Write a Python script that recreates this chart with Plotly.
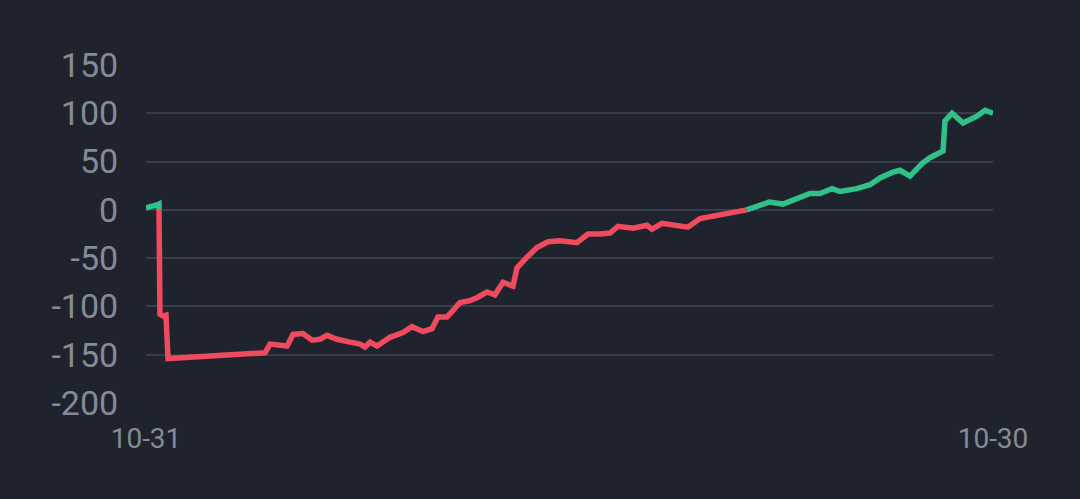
import plotly.graph_objects as go

# time position (0 = start "10-31", 100 = end "10-30")
t = [0, 0.71, 1.30, 1.53, 1.65, 2.01, 2.36, 2.60, 6.38, 10.51, 13.11, 14.05, 14.64,
     15.82, 16.65, 17.36, 18.54, 19.60, 20.54, 21.37, 22.55, 24.09, 25.27, 25.86,
     26.45, 27.27, 28.81, 30.34, 31.40, 32.70, 33.77, 34.47, 35.54, 37.07, 38.25,
     39.08, 40.26, 41.20, 42.15, 43.33, 43.80, 44.98, 46.16, 47.46, 48.88, 50.89,
     52.18, 53.60, 54.78, 55.73, 57.50, 59.15, 59.74, 60.92, 62.10, 63.99, 65.41,
     66.82, 68.83, 70.60, 71.55, 73.55, 75.21, 76.98, 78.39, 79.58, 80.99, 81.93,
     83.94, 85.48, 86.66, 88.19, 89.02, 90.20, 91.62, 92.56, 94.10, 94.33, 95.16,
     96.46, 97.28, 98.11, 99.06, 100]
pnl = [2, 3, 5, 6, -108, -110, -109, -154, -152, -150, -148, -148, -139,
       -140, -141, -129, -128, -135, -134, -130, -134, -137, -139, -142,
       -137, -141, -132, -127, -121, -126, -123, -111, -111, -96, -94,
       -91, -85, -88, -75, -79, -60, -49, -39, -33, -32, -34,
       -25, -25, -24, -17, -19, -16, -20, -14, -15, -18, -9,
       -7, -4, -1, 2, 8, 6, 12, 17, 17, 22, 19,
       22, 26, 33, 39, 41, 35, 48, 54, 61, 92, 100,
       90, 93, 97, 103, 100]

y_ticks = [150, 100, 50, 0, -50, -100, -150, -200]
y_ticktext = ["150", "100", "50", "0", "-50", "-100", "-150", "-200"]
x_tickvals = [0, 100]
x_ticktext = ["10-31", "10-30"]

RED = "#f04a5f"
GREEN = "#30c188"

# split into positive (green) / negative (red) segments with zero-crossing points
gx, gy, rx, ry = [], [], [], []
for i in range(len(t)):
    if i > 0:
        y0, y1 = pnl[i - 1], pnl[i]
        if (y0 >= 0) != (y1 >= 0):
            xc = t[i - 1] + (t[i] - t[i - 1]) * (0 - y0) / (y1 - y0)
            if y0 >= 0:
                gx.append(xc); gy.append(0); gx.append(None); gy.append(None)
                rx.append(xc); ry.append(0)
            else:
                rx.append(xc); ry.append(0); rx.append(None); ry.append(None)
                gx.append(xc); gy.append(0)
    if pnl[i] >= 0:
        gx.append(t[i]); gy.append(pnl[i])
    else:
        rx.append(t[i]); ry.append(pnl[i])

fig = go.Figure()
fig.add_trace(go.Scatter(x=rx, y=ry, mode="lines", line=dict(color=RED, width=5.5),
                         connectgaps=False, showlegend=False))
fig.add_trace(go.Scatter(x=gx, y=gy, mode="lines", line=dict(color=GREEN, width=5.5),
                         connectgaps=False, showlegend=False))

fig.update_layout(
    width=1080, height=499,
    paper_bgcolor="#1f232d", plot_bgcolor="#1f232d",
    margin=dict(l=146, r=87, t=65, b=96),
    font=dict(family="Roboto", color="#858b96"),
    xaxis=dict(range=[0, 100], showgrid=False, zeroline=False, showline=False,
               tickvals=x_tickvals, ticktext=x_ticktext, tickfont=dict(size=28),
               ticks="outside", ticklen=10, tickcolor="rgba(0,0,0,0)"),
    yaxis=dict(range=[-200, 150], tickvals=y_ticks, ticktext=y_ticktext, showgrid=True,
               gridcolor="#383c48", gridwidth=2, zeroline=False, showline=False,
               tickfont=dict(size=34), ticks="outside", ticklen=20,
               tickcolor="rgba(0,0,0,0)"),
)

fig.write_html("out.html", config={"displayModeBar": False},
               post_script="document.body.style.margin='0';document.body.style.background='#1f232d';")
